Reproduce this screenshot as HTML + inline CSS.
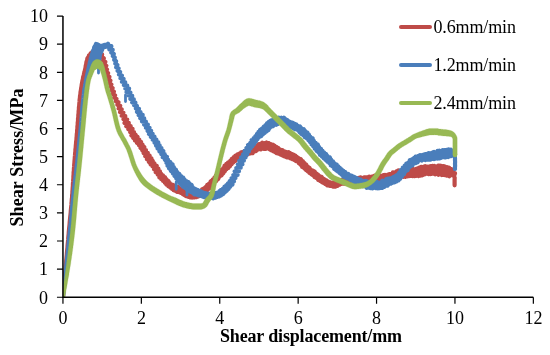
<!DOCTYPE html>
<html><head><meta charset="utf-8"><title>Shear stress chart</title>
<style>
html,body{margin:0;padding:0;background:#fff;}
svg{display:block;font-family:"Liberation Serif","Times New Roman",serif;font-size:18px;fill:#000;}
.b{font-weight:bold;font-size:18px;}
</style></head><body>
<svg width="550" height="355" viewBox="0 0 550 355">
<rect width="550" height="355" fill="#fff"/>
<defs><clipPath id="plot"><rect x="62.95" y="0" width="470.40" height="297.25"/></clipPath></defs>
<g clip-path="url(#plot)"><path d="M63.0,297.0 L63.2,295.1 L63.3,293.2 L63.5,291.3 L63.7,289.4 L63.8,287.5 L64.0,285.6 L64.2,283.7 L64.4,281.8 L64.5,279.8 L64.7,277.9 L64.9,276.0 L65.0,274.0 L65.2,272.1 L65.4,270.2 L65.6,268.3 L65.7,266.3 L65.9,264.4 L66.1,262.5 L66.2,260.6 L66.4,258.7 L66.6,256.8 L66.8,254.8 L66.9,252.9 L67.1,250.9 L67.3,249.0 L67.5,247.1 L67.6,245.2 L67.8,243.2 L68.0,241.3 L68.2,239.4 L68.3,237.4 L68.5,235.5 L68.7,233.6 L68.8,231.7 L69.0,229.7 L69.2,227.8 L69.4,225.9 L69.6,224.0 L69.7,222.1 L69.9,220.2 L70.1,218.3 L70.3,216.3 L70.5,214.4 L70.7,212.5 L70.8,210.6 L71.0,208.7 L71.2,206.8 L71.4,204.9 L71.5,203.0 L71.7,201.1 L71.8,199.1 L72.1,197.3 L72.1,195.4 L72.4,193.4 L72.4,191.5 L72.6,189.6 L72.7,187.7 L72.9,185.8 L72.9,183.9 L73.1,181.9 L73.2,180.0 L73.4,178.2 L73.4,176.2 L73.6,174.3 L73.6,172.4 L73.9,170.5 L73.9,168.6 L74.1,166.7 L74.2,164.8 L74.4,162.8 L74.5,160.9 L74.7,159.1 L74.8,157.1 L75.0,155.2 L75.1,153.3 L75.4,151.4 L75.4,149.5 L75.7,147.6 L75.8,145.6 L76.0,143.8 L76.1,141.9 L76.4,140.0 L76.5,138.0 L76.7,136.1 L76.8,134.2 L77.1,132.3 L77.1,130.4 L77.4,128.5 L77.4,126.6 L77.7,124.7 L77.7,122.8 L78.0,120.8 L78.0,118.9 L78.3,117.0 L78.3,115.1 L78.6,113.2 L78.6,111.3 L78.9,109.4 L78.9,107.5 L79.2,105.6 L79.3,103.6 L79.5,101.7 L79.6,99.8 L79.9,97.9 L80.0,96.0 L80.4,94.2 L80.5,92.2 L80.9,90.3 L81.1,88.4 L81.5,86.5 L81.7,84.6 L82.1,82.8 L82.4,80.8 L82.9,79.0 L83.1,77.1 L83.7,75.3 L84.1,73.4 L84.6,71.6 L85.0,69.7 L85.5,67.8 L85.7,65.9 L86.2,64.0 L86.4,62.1 L87.0,60.3 L87.4,58.4 L88.6,56.9 L89.0,55.3 L90.4,54.6 L90.7,53.2 L92.1,52.9 L92.5,51.6 L93.8,51.8 L94.4,50.6 L95.3,51.5 L96.3,50.7 L96.9,51.9 L98.2,51.2 L98.5,52.8 L100.1,52.3 L100.1,53.9 L102.1,54.4 L101.6,56.8 L103.8,58.3 L102.9,60.6 L105.3,61.9 L104.0,64.3 L106.3,65.7 L104.9,68.1 L107.0,69.5 L105.7,71.9 L108.1,73.2 L107.0,75.5 L109.4,76.9 L108.2,79.3 L110.4,80.6 L109.2,83.0 L111.4,84.4 L110.3,86.7 L112.6,88.0 L111.4,90.4 L113.9,91.7 L112.8,94.1 L115.1,95.3 L114.2,97.7 L116.5,98.8 L115.8,101.3 L118.5,102.2 L117.4,104.8 L120.2,105.7 L118.7,108.5 L121.7,109.3 L120.1,112.1 L123.4,112.7 L121.7,115.7 L125.3,116.1 L123.5,119.1 L127.2,119.5 L124.5,123.0 L128.8,122.9 L126.3,126.3 L130.7,126.1 L128.4,129.3 L132.6,128.9 L130.3,132.3 L134.0,132.0 L131.4,135.5 L135.6,134.6 L133.3,138.0 L137.6,137.0 L135.0,140.6 L139.3,139.6 L137.1,143.0 L141.1,142.0 L139.0,145.3 L142.6,144.6 L140.5,147.9 L144.4,147.1 L142.3,150.4 L146.0,150.0 L143.7,153.2 L147.8,152.8 L145.3,156.3 L149.7,155.7 L147.0,159.3 L151.5,158.4 L149.0,162.0 L152.8,161.0 L150.6,164.4 L154.5,163.4 L152.7,166.5 L156.8,165.8 L154.1,169.4 L158.4,168.7 L155.8,172.3 L160.0,171.5 L157.9,174.8 L161.3,174.0 L159.4,177.4 L163.2,175.8 L161.4,179.2 L165.1,177.4 L163.2,181.0 L166.6,179.4 L165.0,182.8 L168.5,181.2 L166.6,184.7 L169.9,183.3 L168.6,186.4 L171.4,184.5 L170.5,187.8 L173.1,185.1 L172.2,189.0 L174.9,185.6 L173.8,190.3 L176.6,186.4 L175.7,191.0 L178.4,187.1 L177.3,192.0 L179.9,188.5 L179.2,192.2 L181.9,189.2 L181.0,193.0 L183.8,190.0 L182.7,194.1 L185.4,191.1 L184.5,195.1 L186.9,192.0 L186.2,196.2 L188.8,192.3 L188.0,196.8 L190.3,193.4 L189.9,197.4 L191.9,193.4 L192.1,197.6 L193.1,193.7 L194.3,197.4 L194.5,193.8 L196.4,197.1 L195.9,193.0 L198.3,196.6 L197.4,192.0 L200.1,195.7 L199.3,191.9 L202.3,195.0 L201.0,191.0 L203.8,193.1 L202.2,189.3 L205.8,192.0 L204.2,188.3 L207.3,190.1 L205.8,186.8 L209.3,188.5 L207.3,184.9 L211.1,186.7 L209.4,183.4 L213.1,185.0 L210.8,181.2 L214.4,182.6 L212.9,179.5 L216.3,180.9 L214.6,177.5 L218.2,179.0 L216.1,175.4 L219.6,176.8 L217.7,173.3 L221.7,175.2 L219.4,171.3 L223.4,173.2 L221.3,169.5 L224.9,171.1 L223.4,168.0 L226.5,169.2 L224.6,165.6 L228.5,167.8 L226.4,163.9 L230.1,165.9 L228.2,162.3 L231.7,164.0 L230.2,160.9 L233.5,162.3 L231.8,158.8 L235.4,160.8 L233.7,157.2 L236.9,159.3 L235.4,155.6 L238.8,158.4 L237.3,154.4 L240.3,157.3 L239.4,153.5 L241.7,156.2 L241.2,152.4 L243.4,155.8 L243.1,151.9 L245.0,155.2 L244.7,150.8 L246.9,154.9 L246.5,150.5 L248.5,153.9 L248.2,150.3 L250.4,153.4 L249.8,149.6 L252.7,153.1 L251.5,148.8 L254.3,151.6 L253.1,147.7 L256.1,150.9 L254.9,146.6 L257.6,149.6 L256.7,145.6 L259.3,149.1 L258.5,144.2 L260.9,149.4 L260.5,143.8 L262.4,148.5 L262.3,142.7 L264.1,148.9 L264.5,143.2 L265.4,149.0 L266.7,142.5 L266.8,148.4 L268.7,143.1 L268.4,148.7 L270.5,143.9 L269.6,149.4 L273.0,144.7 L270.8,150.0 L275.0,146.1 L272.9,151.0 L276.5,147.0 L274.8,152.1 L278.2,147.9 L276.6,153.2 L279.5,149.3 L278.6,153.7 L281.2,149.9 L280.5,154.6 L282.8,150.3 L282.2,155.3 L284.4,151.4 L283.7,156.1 L286.2,152.0 L285.4,156.8 L288.3,152.1 L287.1,157.5 L290.1,152.9 L289.1,157.6 L291.8,153.9 L290.7,158.5 L293.6,154.7 L292.4,159.2 L295.4,155.7 L294.2,159.9 L297.0,157.1 L295.8,161.1 L298.8,158.2 L297.7,161.8 L300.9,159.3 L299.0,163.3 L302.8,161.1 L300.8,164.8 L304.6,163.1 L302.3,167.0 L306.3,164.8 L304.5,168.5 L307.7,166.6 L306.1,170.1 L309.5,167.9 L308.0,171.5 L310.9,169.6 L309.6,173.0 L312.9,170.6 L311.4,174.3 L314.8,171.7 L313.2,175.6 L316.2,173.4 L314.8,177.2 L318.1,174.7 L316.8,178.2 L319.7,176.1 L318.3,180.0 L321.8,177.0 L320.2,181.0 L323.1,178.5 L322.0,182.3 L324.8,179.6 L323.9,183.1 L326.6,180.4 L325.7,184.2 L328.2,181.5 L327.4,185.5 L329.7,182.2 L329.7,186.0 L331.2,182.6 L331.6,185.8 L332.8,182.7 L333.3,186.7 L334.5,182.4 L335.5,186.7 L335.7,182.8 L337.9,185.7 L337.0,181.8 L339.6,184.6 L339.0,180.7 L341.0,184.0 L340.9,180.2 L342.7,183.6 L342.7,179.8 L344.5,183.5 L344.6,179.5 L346.1,183.0 L346.5,179.0 L347.8,183.1 L348.3,178.4 L349.5,183.2 L350.1,178.4 L351.3,183.4 L351.9,178.6 L352.9,182.6 L353.6,178.3 L354.6,182.6 L355.3,178.0 L356.4,182.9 L357.1,178.3 L358.2,183.0 L358.8,177.9 L359.9,182.6 L360.6,177.4 L361.7,182.9 L362.4,178.0 L363.5,182.2 L364.1,177.3 L365.3,182.1 L365.8,177.3 L367.3,182.0 L367.5,177.4 L369.2,181.9 L369.1,176.6 L370.9,181.0 L371.0,176.9 L372.7,181.4 L372.9,176.4 L374.3,180.8 L374.7,175.7 L376.0,180.6 L376.6,175.8 L377.7,181.2 L378.3,175.6 L379.4,181.0 L380.0,175.5 L381.1,181.1 L381.7,175.9 L382.9,180.9 L383.4,175.2 L384.7,181.1 L385.0,174.9 L386.8,180.9 L386.6,175.4 L388.7,179.9 L388.0,174.6 L390.8,179.9 L389.6,174.0 L392.3,178.7 L391.5,173.8 L394.0,178.1 L393.0,172.3 L395.5,177.3 L394.9,172.4 L397.5,177.0 L396.4,171.4 L399.1,176.5 L398.5,170.3 L400.2,176.1 L400.8,170.5 L401.9,176.7 L402.6,169.9 L403.7,176.9 L404.3,170.6 L405.4,176.9 L406.0,169.8 L407.1,176.5 L407.7,170.5 L408.9,176.1 L409.3,169.3 L410.8,175.9 L411.1,169.6 L412.7,176.1 L412.7,168.7 L414.5,176.1 L414.6,169.4 L416.5,175.8 L416.1,168.8 L418.6,176.0 L417.7,168.4 L420.4,175.5 L419.4,167.7 L422.2,175.4 L421.2,166.9 L423.6,174.4 L423.3,166.9 L425.1,174.3 L425.2,166.1 L426.7,173.6 L427.1,166.6 L428.5,174.1 L429.0,166.5 L430.2,174.2 L430.7,166.2 L431.9,173.8 L432.5,165.9 L433.5,173.6 L434.2,165.9 L435.2,174.3 L436.2,166.7 L436.7,173.7 L438.2,165.5 L438.3,174.8 L440.0,165.6 L440.2,173.5 L441.8,166.0 L441.7,175.1 L443.7,166.1 L443.4,174.9 L445.5,166.7 L444.9,175.2 L447.3,167.2 L446.5,175.6 L449.2,167.7 L448.3,175.1 L451.1,168.9 L449.2,176.3 L453.5,169.7 L451.3,175.1 L455.0,173.2 L454.0,176.0 L454.7,177.7 L454.6,179.6 L454.6,181.5 L454.6,183.5 L454.6,185.3" fill="none" stroke="#be4b48" stroke-width="4.2" stroke-linejoin="round" stroke-linecap="round"/><path d="M63.0,297.0 L63.2,295.1 L63.4,293.2 L63.6,291.3 L63.8,289.4 L64.0,287.5 L64.2,285.6 L64.4,283.7 L64.6,281.8 L64.9,279.8 L65.1,278.0 L65.3,276.0 L65.5,274.1 L65.7,272.2 L65.9,270.3 L66.1,268.3 L66.3,266.4 L66.5,264.5 L66.7,262.5 L66.9,260.7 L67.1,258.7 L67.3,256.8 L67.5,254.9 L67.7,252.9 L67.9,251.0 L68.1,249.1 L68.3,247.2 L68.5,245.2 L68.7,243.3 L68.8,241.4 L69.0,239.5 L69.2,237.5 L69.4,235.6 L69.6,233.7 L69.8,231.8 L70.0,229.8 L70.2,227.9 L70.4,226.0 L70.6,224.1 L70.8,222.2 L70.9,220.3 L71.1,218.4 L71.3,216.4 L71.5,214.5 L71.7,212.6 L71.8,210.7 L72.0,208.8 L72.2,206.9 L72.4,205.0 L72.5,203.1 L72.8,201.2 L72.9,199.3 L73.2,197.4 L73.3,195.5 L73.6,193.5 L73.7,191.6 L74.0,189.8 L74.1,187.8 L74.5,185.9 L74.6,184.0 L74.9,182.1 L75.1,180.2 L75.4,178.3 L75.5,176.4 L75.8,174.5 L76.0,172.6 L76.3,170.7 L76.4,168.8 L76.7,166.9 L76.8,165.0 L77.2,163.1 L77.3,161.2 L77.6,159.3 L77.7,157.4 L78.0,155.5 L78.1,153.6 L78.4,151.7 L78.5,149.8 L78.8,147.9 L78.9,145.9 L79.1,144.1 L79.3,142.2 L79.5,140.3 L79.6,138.3 L79.9,136.4 L80.0,134.5 L80.3,132.6 L80.4,130.7 L80.7,128.8 L80.8,126.9 L81.0,125.0 L81.1,123.1 L81.3,121.2 L81.4,119.3 L81.6,117.4 L81.7,115.4 L82.0,113.5 L82.0,111.6 L82.3,109.7 L82.3,107.8 L82.6,105.9 L82.7,103.9 L83.0,102.1 L83.1,100.2 L83.4,98.2 L83.5,96.3 L83.8,94.5 L84.0,92.5 L84.3,90.7 L84.5,88.8 L84.9,86.9 L85.2,85.0 L85.6,83.1 L85.8,81.2 L86.3,79.3 L86.6,77.4 L87.1,75.6 L87.4,73.7 L87.9,71.9 L88.2,69.9 L88.7,68.1 L89.0,66.2 L89.6,64.3 L89.8,62.4 L90.5,60.6 L90.7,58.7 L91.5,56.9 L91.7,55.0 L92.5,53.2 L92.9,51.3 L93.8,49.6 L94.2,47.3 L95.4,45.4 L96.0,44.0 L96.9,44.3 L97.9,44.5 L98.6,45.4 L99.6,45.6 L100.4,46.2 L101.3,45.8 L102.2,46.3 L103.0,45.5 L103.9,46.9 L104.7,45.0 L105.8,46.8 L106.3,44.6 L107.7,46.7 L108.2,43.7 L108.3,46.6 L111.4,46.2 L109.4,49.4 L112.7,49.9 L111.3,52.6 L113.8,53.8 L112.8,56.1 L114.8,57.5 L114.2,59.8 L116.1,61.2 L115.3,63.5 L117.4,64.9 L116.2,67.3 L118.6,68.5 L117.6,70.9 L120.1,72.0 L119.0,74.6 L121.9,75.4 L120.5,78.2 L123.6,78.9 L122.0,81.8 L125.2,82.3 L123.9,85.1 L127.2,85.5 L125.4,88.5 L129.1,88.7 L126.6,92.1 L130.4,92.5 L128.6,95.4 L132.2,95.9 L130.4,98.9 L133.8,99.3 L132.2,102.3 L135.4,102.6 L134.2,105.3 L136.9,105.9 L135.9,108.5 L139.0,108.8 L137.0,111.9 L140.5,112.0 L138.7,115.1 L142.7,114.9 L140.3,118.3 L144.2,118.4 L142.1,121.5 L145.9,121.7 L144.2,124.6 L147.9,124.7 L146.0,127.8 L149.6,127.8 L147.6,130.9 L151.2,130.8 L149.0,134.1 L152.7,133.8 L150.9,136.9 L154.5,136.7 L152.8,139.7 L156.4,139.6 L154.6,142.6 L158.3,142.4 L156.1,145.7 L159.7,145.4 L157.6,148.6 L161.5,148.2 L159.5,151.4 L163.4,151.0 L161.4,154.2 L164.7,154.2 L162.8,157.3 L167.0,156.8 L165.0,159.9 L168.2,159.8 L166.5,162.8 L170.4,162.1 L167.6,165.8 L172.6,164.4 L169.1,168.5 L173.9,167.2 L171.0,171.0 L175.9,169.6 L172.9,173.5 L177.4,172.2 L174.6,176.1 L179.5,174.2 L176.3,178.5 L181.1,176.2 L178.1,180.7 L183.3,177.7 L179.4,183.0 L184.6,179.7 L181.3,184.9 L186.4,181.1 L183.0,186.7 L188.5,182.2 L185.0,187.9 L189.9,184.0 L186.9,189.2 L191.7,185.1 L188.5,191.0 L192.7,187.2 L190.7,191.9 L194.3,188.4 L192.8,193.0 L195.9,189.2 L194.4,194.5 L197.5,189.9 L196.5,194.7 L199.1,190.8 L198.4,195.3 L200.9,191.2 L200.3,195.7 L202.3,192.2 L202.1,196.4 L203.9,192.8 L203.9,197.2 L205.6,193.2 L205.8,197.2 L207.3,193.6 L207.5,197.9 L209.1,193.6 L209.3,198.0 L210.7,194.0 L211.2,197.7 L212.3,194.0 L213.2,198.4 L213.7,193.5 L215.3,197.7 L215.1,193.2 L217.3,196.9 L216.7,192.9 L219.2,196.3 L218.4,192.2 L221.1,195.4 L219.6,191.1 L223.2,194.0 L221.0,189.9 L224.9,192.1 L223.0,188.5 L226.8,190.7 L224.6,186.7 L228.6,188.8 L226.4,185.0 L230.2,186.7 L228.1,183.2 L232.5,184.5 L229.9,180.9 L234.0,181.5 L231.6,178.1 L235.5,178.1 L233.4,175.0 L237.6,174.9 L234.7,171.4 L239.0,171.2 L236.4,168.0 L240.7,167.7 L237.9,164.3 L242.5,164.3 L239.3,160.7 L243.9,160.7 L241.2,157.3 L245.6,157.5 L243.2,154.1 L247.2,154.3 L244.7,150.8 L249.0,151.3 L246.5,147.9 L250.7,148.5 L248.1,144.9 L252.5,146.1 L250.4,142.7 L254.2,143.8 L251.7,140.0 L255.9,141.6 L253.8,138.1 L257.4,139.4 L255.5,136.0 L259.0,137.3 L257.1,133.8 L261.2,136.0 L258.6,131.7 L262.9,134.3 L260.2,129.7 L264.8,132.8 L262.3,128.4 L266.7,131.4 L263.9,126.6 L268.5,130.0 L265.6,125.0 L269.7,128.0 L267.2,123.1 L271.2,126.8 L269.0,121.6 L273.0,126.1 L271.0,120.5 L274.4,124.8 L273.0,119.8 L276.3,124.7 L274.9,119.4 L278.1,123.7 L276.8,118.5 L279.4,122.8 L278.8,117.5 L280.4,122.9 L281.5,117.7 L281.4,122.5 L284.1,117.8 L282.6,123.4 L285.9,119.3 L284.5,123.7 L287.6,120.3 L286.3,124.8 L289.0,121.5 L288.0,125.9 L290.7,122.3 L289.8,126.6 L292.6,122.8 L291.5,127.3 L294.4,123.6 L293.2,128.2 L296.3,124.4 L294.8,129.3 L297.9,125.9 L296.8,129.6 L300.0,126.5 L298.4,130.7 L301.5,128.3 L299.7,132.3 L303.8,129.3 L301.3,133.8 L305.4,131.3 L303.3,135.2 L307.4,132.7 L304.8,137.1 L309.0,134.8 L306.9,138.4 L310.4,136.9 L308.6,140.3 L312.7,138.4 L310.2,142.3 L313.9,140.9 L311.7,144.5 L315.7,143.0 L313.4,146.6 L317.9,144.7 L314.9,148.9 L319.2,147.1 L316.7,151.0 L321.0,149.0 L318.7,152.8 L322.6,150.9 L320.2,155.0 L324.3,152.7 L322.1,156.6 L326.2,154.3 L323.9,158.4 L327.7,156.3 L325.7,160.0 L329.9,157.5 L327.4,161.7 L331.2,159.7 L329.5,163.2 L333.0,161.4 L330.8,165.4 L334.6,163.4 L333.0,166.7 L336.7,164.6 L334.3,168.9 L338.3,166.4 L336.2,170.4 L339.9,168.0 L338.1,171.7 L341.7,169.4 L339.8,173.1 L343.5,171.0 L341.7,174.7 L345.3,172.1 L343.3,176.6 L346.4,173.7 L345.5,177.5 L348.3,174.0 L347.2,178.5 L349.8,175.2 L349.1,179.0 L351.8,175.8 L350.6,180.3 L353.7,176.6 L352.5,181.0 L355.4,177.5 L354.0,182.5 L357.1,178.1 L355.8,183.3 L358.7,179.1 L357.8,183.5 L360.5,179.6 L359.6,184.3 L362.0,180.8 L361.3,185.4 L363.7,181.3 L363.1,186.1 L365.5,181.0 L365.0,186.4 L367.2,181.4 L366.6,187.9 L368.6,182.5 L368.8,187.7 L370.1,181.9 L370.8,188.2 L371.8,182.4 L372.5,188.3 L373.5,182.4 L374.3,187.7 L375.2,182.2 L376.0,188.2 L376.9,181.9 L377.8,188.3 L378.7,182.8 L379.6,188.2 L380.1,182.5 L382.4,187.9 L381.0,182.5 L384.6,186.7 L382.3,180.7 L385.7,185.3 L384.8,180.6 L387.6,185.6 L386.3,179.1 L389.0,184.1 L388.0,178.6 L390.9,183.6 L389.9,178.4 L392.7,182.8 L391.7,178.0 L394.7,182.3 L393.3,177.1 L396.6,181.4 L394.9,176.2 L398.5,180.3 L396.6,175.3 L400.2,178.7 L398.1,174.2 L401.9,176.6 L399.3,172.6 L404.0,174.1 L400.7,170.1 L405.6,171.5 L402.9,167.5 L407.7,170.0 L404.8,165.6 L408.9,167.8 L406.4,163.6 L410.7,166.4 L408.6,162.3 L412.6,165.2 L409.9,160.2 L413.9,163.5 L412.1,159.1 L415.9,163.0 L414.0,158.0 L417.7,162.2 L415.7,156.6 L418.8,160.6 L417.9,156.1 L420.3,160.1 L420.0,155.1 L421.9,160.6 L421.9,155.1 L423.4,159.7 L423.6,154.7 L425.4,160.0 L425.2,154.1 L427.2,159.5 L427.0,153.9 L429.1,159.7 L428.7,153.1 L430.8,159.5 L430.6,153.3 L432.4,158.8 L432.4,152.5 L434.3,159.1 L434.1,151.8 L436.0,158.5 L436.0,152.2 L437.8,158.5 L437.6,150.9 L439.6,158.4 L439.4,150.5 L441.4,157.8 L441.1,151.1 L443.2,157.0 L442.8,150.1 L445.1,157.4 L444.6,150.0 L446.8,157.1 L446.6,149.9 L448.4,157.0 L448.6,149.4 L449.8,156.1 L450.9,149.6 L451.0,156.2 L452.8,151.3 L452.1,155.3 L455.0,153.9 L454.8,156.4 L455.0,158.3 L455.0,160.1 L455.1,162.0 L455.0,163.9 L455.1,165.9 L454.9,168.0 L455.0,169.0" fill="none" stroke="#4a7ebb" stroke-width="4.2" stroke-linejoin="round" stroke-linecap="round"/><path d="M88.5,62 L90,55 L93.5,46 L96.5,42 L100.5,44 L104.5,44 L104.5,49.5 L102,55 L101,62 L98,65 L92,65 Z" fill="#4a7ebb"/><path d="M98.5,60 V73 M125.5,95 V101.5 M176.2,182 V189.3 M187,188 V195" fill="none" stroke="#4a7ebb" stroke-width="2.8" stroke-linecap="round"/><path d="M64.8,297.3 L64.9,296.7 L65.0,296.1 L65.1,295.5 L65.2,294.9 L65.3,294.3 L65.5,293.7 L65.6,293.1 L65.7,292.5 L65.8,291.9 L65.9,291.3 L66.0,290.8 L66.1,290.2 L66.2,289.6 L66.3,289.0 L66.5,288.4 L66.6,287.8 L66.7,287.2 L66.8,286.6 L66.9,286.0 L67.0,285.4 L67.1,284.8 L67.2,284.2 L67.3,283.7 L67.4,283.1 L67.5,282.5 L67.6,281.9 L67.7,281.3 L67.8,280.7 L67.9,280.1 L68.0,279.5 L68.1,278.9 L68.2,278.3 L68.3,277.7 L68.5,277.1 L68.6,276.5 L68.7,276.0 L68.8,275.4 L68.9,274.8 L69.0,274.2 L69.0,273.6 L69.1,273.0 L69.2,272.4 L69.3,271.8 L69.4,271.2 L69.5,270.6 L69.6,270.0 L69.7,269.4 L69.8,268.8 L69.9,268.2 L70.0,267.6 L70.1,267.0 L70.2,266.5 L70.3,265.9 L70.4,265.3 L70.5,264.7 L70.6,264.1 L70.7,263.5 L70.8,262.9 L70.8,262.3 L70.9,261.7 L71.0,261.1 L71.1,260.5 L71.2,259.9 L71.3,259.3 L71.4,258.7 L71.5,258.1 L71.6,257.5 L71.6,256.9 L71.7,256.3 L71.8,255.8 L71.9,255.2 L72.0,254.6 L72.1,254.0 L72.2,253.4 L72.2,252.8 L72.3,252.2 L72.4,251.6 L72.5,251.0 L72.6,250.4 L72.6,249.8 L72.7,249.2 L72.8,248.6 L72.9,248.0 L73.0,247.4 L73.0,246.8 L73.1,246.2 L73.2,245.6 L73.3,245.0 L73.4,244.4 L73.4,243.8 L73.5,243.2 L73.6,242.6 L73.7,242.0 L73.7,241.5 L73.8,240.9 L73.9,240.3 L73.9,239.7 L74.0,239.1 L74.1,238.5 L74.2,237.9 L74.2,237.3 L74.3,236.7 L74.4,236.1 L74.4,235.5 L74.5,234.9 L74.6,234.3 L74.7,233.7 L74.7,233.1 L74.8,232.5 L74.9,231.9 L74.9,231.3 L75.0,230.7 L75.1,230.1 L75.1,229.5 L75.2,228.9 L75.2,228.3 L75.3,227.7 L75.4,227.1 L75.4,226.5 L75.5,225.9 L75.5,225.3 L75.6,224.7 L75.7,224.1 L75.7,223.5 L75.8,222.9 L75.8,222.3 L75.9,221.7 L75.9,221.1 L76.0,220.5 L76.1,219.9 L76.1,219.3 L76.2,218.7 L76.2,218.1 L76.3,217.5 L76.3,216.9 L76.4,216.3 L76.4,215.7 L76.5,215.1 L76.5,214.5 L76.6,213.9 L76.6,213.3 L76.7,212.7 L76.7,212.1 L76.8,211.5 L76.8,210.9 L76.9,210.3 L76.9,209.8 L77.0,209.2 L77.0,208.6 L77.1,208.0 L77.1,207.4 L77.2,206.8 L77.2,206.2 L77.3,205.6 L77.3,205.0 L77.4,204.4 L77.4,203.8 L77.5,203.2 L77.5,202.6 L77.6,202.0 L77.7,201.4 L77.7,200.8 L77.8,200.2 L77.8,199.6 L77.9,199.0 L77.9,198.4 L78.0,197.8 L78.0,197.2 L78.1,196.6 L78.2,196.0 L78.2,195.4 L78.3,194.8 L78.3,194.2 L78.4,193.7 L78.5,193.1 L78.5,192.5 L78.6,191.9 L78.6,191.3 L78.7,190.7 L78.8,190.1 L78.8,189.5 L78.9,188.9 L79.0,188.3 L79.0,187.7 L79.1,187.1 L79.2,186.5 L79.2,185.9 L79.3,185.3 L79.4,184.7 L79.4,184.1 L79.5,183.5 L79.6,182.9 L79.6,182.3 L79.7,181.8 L79.8,181.2 L79.8,180.6 L79.9,180.0 L80.0,179.4 L80.0,178.8 L80.1,178.2 L80.2,177.6 L80.2,177.0 L80.3,176.4 L80.4,175.8 L80.5,175.2 L80.5,174.6 L80.6,174.0 L80.7,173.4 L80.7,172.8 L80.8,172.2 L80.9,171.6 L80.9,171.0 L81.0,170.4 L81.0,169.8 L81.1,169.2 L81.2,168.6 L81.2,168.0 L81.3,167.4 L81.4,166.8 L81.4,166.2 L81.5,165.6 L81.6,165.0 L81.6,164.4 L81.7,163.8 L81.7,163.2 L81.8,162.6 L81.9,162.0 L81.9,161.4 L82.0,160.8 L82.0,160.2 L82.1,159.6 L82.2,159.1 L82.2,158.5 L82.3,157.9 L82.3,157.3 L82.4,156.7 L82.5,156.1 L82.5,155.5 L82.6,154.9 L82.6,154.3 L82.7,153.7 L82.7,153.1 L82.8,152.5 L82.9,151.9 L82.9,151.3 L83.0,150.7 L83.0,150.1 L83.1,149.5 L83.1,148.9 L83.2,148.3 L83.3,147.7 L83.3,147.1 L83.4,146.5 L83.4,145.9 L83.5,145.3 L83.5,144.7 L83.6,144.1 L83.7,143.5 L83.7,142.9 L83.8,142.3 L83.8,141.7 L83.9,141.1 L83.9,140.5 L84.0,139.9 L84.1,139.3 L84.1,138.7 L84.2,138.1 L84.2,137.5 L84.3,136.9 L84.3,136.3 L84.4,135.8 L84.5,135.2 L84.5,134.6 L84.6,134.0 L84.6,133.4 L84.7,132.8 L84.7,132.2 L84.8,131.6 L84.9,131.0 L84.9,130.4 L85.0,129.8 L85.0,129.2 L85.1,128.6 L85.2,128.0 L85.2,127.4 L85.3,126.8 L85.3,126.2 L85.4,125.6 L85.4,125.0 L85.5,124.4 L85.6,123.8 L85.6,123.2 L85.7,122.6 L85.7,122.0 L85.8,121.4 L85.8,120.8 L85.9,120.2 L85.9,119.6 L86.0,119.0 L86.0,118.4 L86.1,117.8 L86.2,117.2 L86.2,116.6 L86.3,116.0 L86.3,115.4 L86.4,114.8 L86.4,114.2 L86.5,113.6 L86.5,113.0 L86.6,112.4 L86.7,111.8 L86.7,111.3 L86.8,110.7 L86.8,110.1 L86.9,109.5 L86.9,108.9 L87.0,108.3 L87.1,107.7 L87.1,107.1 L87.2,106.5 L87.2,105.9 L87.3,105.3 L87.4,104.7 L87.4,104.1 L87.5,103.5 L87.6,102.9 L87.6,102.3 L87.7,101.7 L87.7,101.1 L87.8,100.5 L87.9,100.0 L87.9,99.4 L88.0,98.8 L88.1,98.2 L88.2,97.6 L88.2,97.0 L88.3,96.4 L88.4,95.8 L88.4,95.2 L88.5,94.6 L88.6,94.0 L88.7,93.4 L88.7,92.8 L88.8,92.2 L88.9,91.6 L89.0,91.0 L89.0,90.5 L89.1,89.9 L89.2,89.3 L89.3,88.7 L89.4,88.1 L89.4,87.5 L89.5,86.9 L89.6,86.3 L89.7,85.7 L89.8,85.2 L89.9,84.6 L90.0,84.0 L90.1,83.4 L90.2,82.9 L90.3,82.3 L90.4,81.7 L90.5,81.2 L90.7,80.6 L90.8,80.1 L90.9,79.6 L91.1,79.0 L91.3,78.5 L91.4,78.0 L91.6,77.4 L91.9,76.9 L92.1,76.4 L92.3,75.8 L92.5,75.3 L92.8,74.7 L93.0,74.2 L93.2,73.6 L93.5,73.0 L93.7,72.5 L93.9,71.9 L94.2,71.3 L94.4,70.8 L94.6,70.3 L94.9,69.7 L95.1,69.2 L95.4,68.7 L95.6,68.3 L95.9,67.8 L96.2,67.3 L96.5,66.8 L96.8,66.4 L97.1,66.0 L97.3,65.7 L97.5,65.5 L97.6,65.4 L97.6,65.4 L97.6,65.4 L97.5,65.3 L97.4,65.3 L97.4,65.4 L97.4,65.4 L97.5,65.4 L97.6,65.6 L97.8,65.8 L98.0,66.1 L98.3,66.6 L98.6,67.0 L98.8,67.5 L99.1,68.0 L99.3,68.4 L99.5,68.9 L99.7,69.4 L99.9,70.0 L100.2,70.5 L100.4,71.1 L100.5,71.6 L100.7,72.2 L100.9,72.8 L101.1,73.3 L101.3,73.9 L101.5,74.5 L101.6,75.0 L101.8,75.6 L102.0,76.2 L102.1,76.7 L102.3,77.3 L102.4,77.9 L102.6,78.4 L102.7,79.0 L102.9,79.6 L103.0,80.2 L103.2,80.7 L103.3,81.3 L103.4,81.9 L103.6,82.5 L103.7,83.0 L103.8,83.6 L103.9,84.2 L104.1,84.8 L104.2,85.4 L104.3,86.0 L104.5,86.6 L104.6,87.2 L104.7,87.8 L104.9,88.4 L105.0,89.0 L105.2,89.6 L105.3,90.2 L105.5,90.8 L105.7,91.4 L105.8,92.0 L106.0,92.6 L106.2,93.2 L106.4,93.7 L106.6,94.3 L106.8,94.9 L107.0,95.4 L107.1,96.0 L107.3,96.5 L107.5,97.1 L107.7,97.7 L107.8,98.3 L108.0,98.8 L108.2,99.4 L108.4,100.0 L108.5,100.5 L108.7,101.1 L108.9,101.7 L109.0,102.3 L109.2,102.8 L109.4,103.4 L109.6,104.0 L109.7,104.6 L109.9,105.1 L110.1,105.7 L110.2,106.3 L110.4,106.9 L110.5,107.4 L110.7,108.0 L110.9,108.6 L111.0,109.1 L111.2,109.7 L111.3,110.3 L111.5,110.9 L111.7,111.4 L111.8,112.0 L111.9,112.6 L112.1,113.1 L112.2,113.7 L112.4,114.3 L112.5,114.9 L112.6,115.5 L112.8,116.0 L112.9,116.6 L113.0,117.2 L113.2,117.8 L113.3,118.4 L113.4,119.0 L113.6,119.6 L113.7,120.2 L113.8,120.8 L114.0,121.4 L114.1,122.0 L114.2,122.6 L114.4,123.1 L114.5,123.7 L114.7,124.3 L114.8,124.9 L115.0,125.5 L115.1,126.1 L115.3,126.7 L115.5,127.3 L115.6,127.9 L115.8,128.5 L116.0,129.1 L116.2,129.6 L116.4,130.2 L116.6,130.8 L116.8,131.4 L117.1,132.0 L117.3,132.6 L117.6,133.2 L117.8,133.7 L118.1,134.3 L118.4,134.9 L118.7,135.4 L119.0,136.0 L119.3,136.5 L119.6,137.1 L119.9,137.6 L120.2,138.1 L120.5,138.6 L120.8,139.2 L121.1,139.7 L121.4,140.2 L121.7,140.7 L122.0,141.2 L122.3,141.7 L122.6,142.3 L122.9,142.8 L123.1,143.3 L123.4,143.8 L123.7,144.4 L124.0,144.9 L124.3,145.4 L124.6,146.0 L124.8,146.5 L125.1,147.0 L125.4,147.5 L125.6,148.1 L125.9,148.6 L126.1,149.1 L126.4,149.6 L126.6,150.1 L126.8,150.6 L127.0,151.2 L127.2,151.7 L127.4,152.2 L127.6,152.8 L127.8,153.3 L128.0,153.9 L128.2,154.4 L128.4,155.0 L128.5,155.5 L128.7,156.1 L128.9,156.7 L129.1,157.3 L129.3,157.8 L129.5,158.4 L129.7,159.0 L129.8,159.5 L130.0,160.1 L130.2,160.7 L130.4,161.3 L130.5,161.8 L130.7,162.4 L130.9,163.0 L131.1,163.6 L131.3,164.2 L131.5,164.8 L131.7,165.4 L132.0,166.0 L132.2,166.5 L132.4,167.1 L132.7,167.7 L132.9,168.3 L133.2,168.8 L133.4,169.4 L133.7,170.0 L133.9,170.5 L134.2,171.1 L134.5,171.7 L134.7,172.2 L135.0,172.8 L135.3,173.3 L135.6,173.9 L135.9,174.4 L136.1,175.0 L136.4,175.5 L136.7,176.1 L137.0,176.6 L137.3,177.1 L137.7,177.7 L138.0,178.2 L138.3,178.8 L138.6,179.3 L139.0,179.9 L139.3,180.4 L139.7,180.9 L140.0,181.5 L140.4,182.0 L140.8,182.5 L141.2,183.0 L141.7,183.5 L142.1,184.0 L142.6,184.5 L143.0,184.9 L143.5,185.4 L144.0,185.8 L144.5,186.2 L145.0,186.7 L145.5,187.1 L146.0,187.4 L146.5,187.8 L147.0,188.2 L147.5,188.6 L148.0,188.9 L148.5,189.3 L149.0,189.7 L149.5,190.0 L150.0,190.4 L150.5,190.7 L151.0,191.1 L151.6,191.4 L152.1,191.8 L152.6,192.1 L153.1,192.4 L153.6,192.8 L154.2,193.1 L154.7,193.4 L155.2,193.7 L155.7,194.1 L156.3,194.4 L156.8,194.7 L157.3,195.0 L157.8,195.3 L158.4,195.6 L158.9,195.9 L159.4,196.2 L160.0,196.5 L160.5,196.8 L161.1,197.1 L161.6,197.4 L162.1,197.7 L162.7,197.9 L163.2,198.2 L163.8,198.5 L164.3,198.8 L164.8,199.1 L165.4,199.3 L165.9,199.6 L166.5,199.9 L167.0,200.1 L167.6,200.4 L168.1,200.7 L168.7,200.9 L169.3,201.2 L169.8,201.5 L170.4,201.7 L170.9,202.0 L171.5,202.3 L172.0,202.6 L172.5,202.8 L173.0,203.1 L173.6,203.3 L174.1,203.6 L174.6,203.8 L175.2,204.1 L175.7,204.3 L176.2,204.6 L176.8,204.9 L177.4,205.1 L178.0,205.4 L178.5,205.6 L179.1,205.9 L179.7,206.1 L180.3,206.3 L180.8,206.6 L181.5,206.8 L182.1,207.0 L182.7,207.3 L183.3,207.5 L184.0,207.6 L184.6,207.8 L185.2,207.9 L185.8,208.1 L186.4,208.2 L187.0,208.4 L187.6,208.5 L188.2,208.7 L188.9,208.8 L189.5,208.9 L190.1,209.0 L190.8,209.1 L191.4,209.2 L192.1,209.3 L192.8,209.4 L193.4,209.4 L194.1,209.5 L194.8,209.5 L195.4,209.5 L196.0,209.5 L196.6,209.5 L197.2,209.5 L197.8,209.5 L198.4,209.5 L199.1,209.5 L199.7,209.5 L200.4,209.5 L201.2,209.4 L202.0,209.2 L202.8,209.0 L203.6,208.7 L204.3,208.4 L205.1,208.0 L205.8,207.6 L206.5,207.0 L207.1,206.3 L207.6,205.6 L207.9,204.9 L208.3,204.3 L208.5,203.7 L208.8,203.2 L209.1,202.7 L209.3,202.3 L209.6,201.9 L210.0,201.5 L210.3,201.0 L210.7,200.6 L211.1,200.1 L211.5,199.6 L211.9,199.1 L212.4,198.5 L212.8,197.9 L213.2,197.3 L213.5,196.7 L213.8,196.0 L214.0,195.4 L214.2,194.7 L214.4,194.1 L214.6,193.5 L214.7,192.9 L214.9,192.2 L215.0,191.6 L215.1,191.0 L215.2,190.4 L215.3,189.8 L215.5,189.2 L215.6,188.6 L215.7,188.0 L215.8,187.4 L215.9,186.8 L216.0,186.2 L216.2,185.6 L216.3,185.1 L216.4,184.5 L216.6,183.9 L216.7,183.3 L216.9,182.7 L217.0,182.2 L217.2,181.6 L217.3,181.0 L217.5,180.4 L217.6,179.8 L217.8,179.3 L217.9,178.7 L218.0,178.1 L218.2,177.5 L218.3,176.9 L218.5,176.3 L218.6,175.8 L218.8,175.2 L218.9,174.6 L219.1,174.0 L219.2,173.4 L219.4,172.8 L219.5,172.3 L219.6,171.7 L219.8,171.1 L219.9,170.5 L220.1,169.9 L220.2,169.3 L220.3,168.7 L220.5,168.2 L220.6,167.6 L220.8,167.0 L220.9,166.4 L221.0,165.8 L221.2,165.2 L221.3,164.6 L221.5,164.1 L221.6,163.5 L221.7,162.9 L221.9,162.3 L222.0,161.7 L222.1,161.1 L222.3,160.6 L222.4,160.0 L222.6,159.4 L222.7,158.8 L222.8,158.2 L223.0,157.6 L223.1,157.1 L223.3,156.5 L223.4,155.9 L223.5,155.3 L223.7,154.7 L223.8,154.2 L224.0,153.6 L224.1,153.0 L224.3,152.4 L224.4,151.8 L224.6,151.3 L224.7,150.7 L224.8,150.1 L225.0,149.5 L225.1,148.9 L225.3,148.4 L225.4,147.8 L225.6,147.2 L225.8,146.6 L225.9,146.1 L226.1,145.5 L226.2,144.9 L226.4,144.4 L226.5,143.8 L226.7,143.2 L226.9,142.6 L227.0,142.1 L227.2,141.5 L227.4,140.9 L227.5,140.4 L227.7,139.8 L227.9,139.3 L228.1,138.7 L228.3,138.2 L228.5,137.6 L228.7,137.1 L228.9,136.5 L229.1,136.0 L229.3,135.4 L229.5,134.8 L229.7,134.2 L229.9,133.7 L230.1,133.1 L230.3,132.5 L230.5,131.9 L230.7,131.3 L230.8,130.7 L231.0,130.1 L231.2,129.5 L231.3,128.9 L231.5,128.3 L231.7,127.7 L231.8,127.1 L232.0,126.6 L232.1,126.0 L232.3,125.4 L232.4,124.8 L232.6,124.2 L232.7,123.6 L232.9,123.1 L233.0,122.5 L233.2,121.9 L233.3,121.3 L233.5,120.7 L233.6,120.1 L233.8,119.5 L233.9,118.9 L234.1,118.3 L234.2,117.7 L234.3,117.1 L234.5,116.6 L234.6,116.1 L234.8,115.7 L234.9,115.4 L235.0,115.2 L235.1,115.0 L235.3,114.8 L235.6,114.6 L236.0,114.4 L236.5,114.1 L237.0,113.8 L237.5,113.5 L238.1,113.2 L238.8,112.8 L239.4,112.4 L239.9,112.0 L240.5,111.5 L241.0,111.1 L241.5,110.7 L241.9,110.2 L242.4,109.8 L242.8,109.5 L243.2,109.1 L243.6,108.7 L244.0,108.4 L244.5,108.1 L245.0,107.8 L245.5,107.5 L246.0,107.1 L246.5,106.8 L247.1,106.5 L247.5,106.2 L248.0,106.0 L248.4,105.8 L248.7,105.7 L248.9,105.7 L249.0,105.7 L249.1,105.7 L249.2,105.7 L249.4,105.8 L249.8,105.8 L250.2,105.9 L250.6,106.1 L251.1,106.2 L251.7,106.4 L252.3,106.6 L253.0,106.8 L253.6,107.0 L254.3,107.2 L255.0,107.3 L255.6,107.5 L256.3,107.6 L256.9,107.7 L257.4,107.7 L258.0,107.8 L258.5,107.9 L259.0,108.0 L259.5,108.1 L259.9,108.2 L260.3,108.3 L260.7,108.4 L261.1,108.6 L261.6,108.7 L262.0,108.9 L262.5,109.1 L262.9,109.3 L263.3,109.6 L263.7,109.8 L264.0,110.1 L264.4,110.4 L264.8,110.8 L265.3,111.2 L265.7,111.7 L266.2,112.1 L266.6,112.6 L267.0,113.0 L267.5,113.4 L267.9,113.8 L268.3,114.3 L268.8,114.7 L269.2,115.1 L269.6,115.5 L270.0,115.9 L270.5,116.4 L270.9,116.8 L271.3,117.2 L271.7,117.6 L272.2,118.1 L272.6,118.5 L273.0,118.9 L273.4,119.3 L273.9,119.8 L274.3,120.2 L274.7,120.6 L275.1,121.0 L275.6,121.4 L276.0,121.9 L276.4,122.3 L276.8,122.7 L277.3,123.1 L277.7,123.6 L278.1,124.0 L278.5,124.4 L279.0,124.8 L279.4,125.3 L279.8,125.7 L280.2,126.1 L280.6,126.5 L281.0,126.9 L281.5,127.4 L281.9,127.8 L282.3,128.2 L282.7,128.7 L283.1,129.1 L283.5,129.5 L284.0,130.0 L284.4,130.4 L284.8,130.9 L285.3,131.3 L285.7,131.7 L286.2,132.2 L286.7,132.6 L287.1,133.0 L287.6,133.4 L288.1,133.9 L288.6,134.3 L289.1,134.6 L289.6,135.0 L290.1,135.4 L290.5,135.8 L291.0,136.1 L291.5,136.5 L291.9,136.9 L292.4,137.2 L292.9,137.6 L293.3,138.0 L293.8,138.4 L294.3,138.7 L294.8,139.1 L295.2,139.5 L295.7,139.8 L296.1,140.2 L296.6,140.6 L297.0,140.9 L297.4,141.3 L297.7,141.6 L298.1,142.0 L298.5,142.4 L298.8,142.8 L299.1,143.2 L299.5,143.6 L299.8,144.1 L300.2,144.5 L300.5,145.0 L300.9,145.5 L301.3,146.0 L301.6,146.5 L302.0,147.0 L302.4,147.5 L302.8,148.0 L303.2,148.4 L303.6,148.9 L304.0,149.4 L304.4,149.8 L304.8,150.3 L305.2,150.8 L305.6,151.2 L306.0,151.7 L306.4,152.1 L306.8,152.5 L307.2,153.0 L307.6,153.4 L308.0,153.9 L308.4,154.3 L308.7,154.8 L309.1,155.2 L309.5,155.7 L309.9,156.1 L310.2,156.6 L310.6,157.1 L311.0,157.5 L311.4,158.0 L311.8,158.5 L312.2,159.0 L312.6,159.4 L313.0,159.9 L313.4,160.4 L313.9,160.8 L314.3,161.3 L314.7,161.7 L315.1,162.2 L315.6,162.6 L316.0,163.0 L316.4,163.4 L316.8,163.9 L317.2,164.3 L317.6,164.7 L317.9,165.1 L318.3,165.5 L318.7,166.0 L319.0,166.4 L319.4,166.9 L319.7,167.3 L320.1,167.8 L320.5,168.3 L320.8,168.7 L321.2,169.2 L321.6,169.7 L321.9,170.2 L322.3,170.7 L322.7,171.1 L323.1,171.6 L323.5,172.1 L323.9,172.6 L324.3,173.1 L324.7,173.5 L325.1,174.0 L325.5,174.5 L325.9,174.9 L326.3,175.4 L326.7,175.9 L327.2,176.3 L327.6,176.8 L328.1,177.3 L328.6,177.8 L329.1,178.2 L329.6,178.7 L330.2,179.1 L330.8,179.5 L331.4,179.9 L332.0,180.2 L332.5,180.5 L333.1,180.8 L333.7,181.1 L334.3,181.4 L334.9,181.6 L335.5,181.9 L336.0,182.1 L336.6,182.4 L337.2,182.6 L337.7,182.9 L338.3,183.1 L338.9,183.3 L339.4,183.6 L340.0,183.8 L340.6,184.0 L341.1,184.2 L341.7,184.4 L342.3,184.7 L342.8,184.9 L343.3,185.1 L343.9,185.3 L344.4,185.5 L344.9,185.8 L345.4,186.0 L346.0,186.3 L346.5,186.5 L347.1,186.8 L347.7,187.0 L348.3,187.3 L348.9,187.5 L349.4,187.7 L350.0,187.9 L350.6,188.2 L351.2,188.4 L351.9,188.7 L352.6,188.9 L353.4,189.1 L354.2,189.2 L354.9,189.2 L355.7,189.2 L356.4,189.2 L357.1,189.1 L357.7,189.1 L358.4,189.0 L359.0,188.9 L359.6,188.8 L360.2,188.7 L360.8,188.7 L361.4,188.6 L362.1,188.5 L362.7,188.4 L363.3,188.2 L364.0,188.1 L364.6,187.9 L365.3,187.8 L365.9,187.6 L366.6,187.4 L367.2,187.1 L367.9,186.8 L368.5,186.4 L369.1,186.1 L369.7,185.7 L370.3,185.3 L370.8,185.0 L371.4,184.6 L371.9,184.2 L372.4,183.8 L373.0,183.3 L373.5,182.9 L374.0,182.4 L374.4,181.9 L374.9,181.5 L375.3,181.0 L375.8,180.5 L376.2,180.0 L376.6,179.5 L377.0,179.0 L377.4,178.5 L377.8,178.0 L378.1,177.5 L378.5,177.0 L378.9,176.4 L379.2,175.9 L379.6,175.4 L379.9,174.8 L380.2,174.3 L380.5,173.8 L380.9,173.3 L381.2,172.7 L381.5,172.2 L381.8,171.6 L382.1,171.1 L382.4,170.5 L382.7,170.0 L383.0,169.4 L383.2,168.9 L383.5,168.3 L383.8,167.8 L384.0,167.3 L384.3,166.8 L384.6,166.3 L384.8,165.8 L385.1,165.4 L385.4,164.9 L385.7,164.4 L386.0,164.0 L386.3,163.5 L386.7,163.0 L387.0,162.5 L387.4,162.1 L387.7,161.6 L388.1,161.1 L388.5,160.5 L388.8,160.0 L389.2,159.5 L389.5,158.9 L389.8,158.4 L390.1,157.9 L390.5,157.4 L390.8,157.0 L391.1,156.5 L391.4,156.1 L391.7,155.7 L392.0,155.3 L392.3,155.0 L392.7,154.6 L393.0,154.3 L393.5,153.9 L393.9,153.6 L394.3,153.2 L394.8,152.9 L395.3,152.5 L395.8,152.1 L396.2,151.7 L396.7,151.3 L397.2,150.9 L397.7,150.5 L398.1,150.1 L398.6,149.8 L399.0,149.4 L399.5,149.0 L399.9,148.7 L400.4,148.3 L400.8,148.0 L401.2,147.7 L401.7,147.4 L402.2,147.1 L402.6,146.8 L403.1,146.5 L403.6,146.2 L404.1,145.9 L404.6,145.6 L405.2,145.3 L405.7,145.0 L406.2,144.7 L406.7,144.4 L407.3,144.1 L407.8,143.8 L408.3,143.4 L408.8,143.1 L409.3,142.8 L409.9,142.5 L410.4,142.2 L410.9,141.9 L411.4,141.5 L412.0,141.2 L412.5,140.8 L413.0,140.5 L413.5,140.1 L414.0,139.8 L414.5,139.5 L414.9,139.2 L415.3,138.9 L415.8,138.7 L416.2,138.5 L416.7,138.3 L417.2,138.1 L417.7,138.0 L418.2,137.8 L418.8,137.7 L419.4,137.5 L419.9,137.4 L420.5,137.2 L421.1,137.0 L421.7,136.9 L422.2,136.7 L422.8,136.6 L423.4,136.5 L423.9,136.3 L424.5,136.2 L425.1,136.1 L425.7,135.9 L426.3,135.8 L426.9,135.7 L427.4,135.5 L428.0,135.4 L428.5,135.3 L429.0,135.2 L429.5,135.1 L429.9,135.1 L430.4,135.0 L430.9,135.0 L431.5,135.0 L432.1,134.9 L432.6,134.9 L433.2,134.9 L433.8,134.9 L434.3,134.9 L434.8,134.8 L435.3,134.9 L435.8,134.9 L436.2,135.0 L436.8,135.0 L437.3,135.1 L437.9,135.3 L438.5,135.4 L439.2,135.5 L439.8,135.6 L440.5,135.6 L441.1,135.7 L441.7,135.7 L442.3,135.8 L442.9,135.9 L443.5,135.9 L444.1,136.0 L444.7,136.0 L445.3,136.1 L445.9,136.1 L446.5,136.2 L447.0,136.2 L447.6,136.3 L448.1,136.3 L448.6,136.3 L449.0,136.4 L449.4,136.4 L449.9,136.5 L450.3,136.6 L450.7,136.7 L451.1,136.8 L451.4,136.9 L451.6,137.1 L451.8,137.3 L452.1,137.6 L452.3,138.0 L452.5,138.3 L452.7,138.7 L452.8,139.1 L452.8,139.5 L452.8,139.9 L452.8,140.5 L452.8,141.0 L452.8,141.6 L452.8,142.2 L452.8,142.8 L452.8,143.3 L452.8,143.9 L452.8,144.5 L452.8,145.1 L452.8,145.7 L452.8,146.3 L452.8,146.9 L452.8,147.5 L452.8,148.1 L452.8,148.7 L452.8,149.3 L452.8,149.9 L452.8,150.5 L452.8,151.1 L452.8,151.8 L452.8,152.4 L452.8,153.0 L452.8,153.7 L452.8,154.3 L452.8,154.9 L452.8,155.0 L457.2,155.0 L457.2,154.9 L457.2,154.3 L457.2,153.7 L457.2,153.0 L457.2,152.4 L457.2,151.8 L457.2,151.1 L457.2,150.5 L457.2,149.9 L457.2,149.3 L457.2,148.7 L457.2,148.1 L457.2,147.5 L457.2,146.9 L457.2,146.3 L457.2,145.7 L457.2,145.1 L457.2,144.5 L457.2,143.9 L457.2,143.3 L457.2,142.8 L457.2,142.2 L457.2,141.6 L457.2,141.0 L457.2,140.5 L457.2,139.9 L457.2,139.2 L457.2,138.4 L457.1,137.6 L456.9,136.8 L456.5,136.0 L456.2,135.2 L455.7,134.5 L455.3,133.8 L454.8,133.2 L454.2,132.6 L453.5,132.0 L452.8,131.5 L452.0,131.1 L451.3,130.8 L450.5,130.5 L449.8,130.3 L449.1,130.2 L448.5,130.0 L447.8,129.9 L447.2,129.8 L446.6,129.7 L446.0,129.6 L445.4,129.6 L444.8,129.5 L444.2,129.4 L443.5,129.4 L442.9,129.3 L442.3,129.3 L441.8,129.2 L441.2,129.2 L440.6,129.1 L440.1,129.0 L439.6,129.0 L439.0,128.9 L438.4,128.7 L437.8,128.6 L437.1,128.5 L436.4,128.4 L435.7,128.4 L435.0,128.4 L434.3,128.4 L433.6,128.4 L433.0,128.4 L432.4,128.4 L431.7,128.4 L431.1,128.5 L430.5,128.5 L429.8,128.6 L429.1,128.6 L428.4,128.8 L427.7,128.9 L427.0,129.1 L426.3,129.3 L425.7,129.6 L425.2,129.8 L424.6,130.0 L424.0,130.2 L423.5,130.3 L422.9,130.5 L422.3,130.7 L421.7,130.9 L421.1,131.2 L420.5,131.4 L420.0,131.6 L419.4,131.8 L418.8,132.0 L418.3,132.2 L417.7,132.4 L417.1,132.7 L416.5,132.9 L415.9,133.2 L415.3,133.4 L414.7,133.7 L414.1,134.0 L413.5,134.3 L412.9,134.6 L412.3,134.9 L411.7,135.3 L411.2,135.7 L410.7,136.0 L410.2,136.4 L409.7,136.7 L409.2,137.0 L408.7,137.3 L408.3,137.6 L407.8,137.9 L407.3,138.2 L406.8,138.5 L406.2,138.8 L405.7,139.2 L405.2,139.5 L404.7,139.8 L404.2,140.1 L403.7,140.4 L403.2,140.7 L402.7,141.0 L402.1,141.3 L401.6,141.6 L401.1,141.9 L400.5,142.2 L400.0,142.5 L399.5,142.9 L398.9,143.2 L398.4,143.6 L397.9,144.0 L397.3,144.3 L396.8,144.7 L396.3,145.1 L395.9,145.5 L395.4,145.9 L394.9,146.3 L394.5,146.7 L394.0,147.1 L393.5,147.5 L393.1,147.8 L392.6,148.2 L392.2,148.6 L391.7,148.9 L391.2,149.3 L390.7,149.7 L390.2,150.1 L389.7,150.6 L389.2,151.0 L388.7,151.5 L388.3,152.0 L387.8,152.5 L387.4,153.1 L387.0,153.6 L386.6,154.2 L386.3,154.7 L385.9,155.2 L385.6,155.8 L385.3,156.3 L385.0,156.8 L384.7,157.3 L384.3,157.7 L384.0,158.2 L383.7,158.7 L383.3,159.1 L383.0,159.6 L382.6,160.1 L382.3,160.6 L381.9,161.1 L381.5,161.7 L381.2,162.2 L380.8,162.7 L380.5,163.3 L380.2,163.9 L379.9,164.4 L379.6,165.0 L379.3,165.5 L379.0,166.1 L378.8,166.6 L378.5,167.2 L378.2,167.7 L378.0,168.2 L377.7,168.7 L377.4,169.2 L377.1,169.7 L376.9,170.2 L376.6,170.7 L376.3,171.2 L376.0,171.7 L375.7,172.2 L375.3,172.7 L375.0,173.2 L374.7,173.7 L374.4,174.1 L374.1,174.6 L373.8,175.0 L373.4,175.5 L373.1,175.9 L372.7,176.3 L372.4,176.8 L372.0,177.2 L371.6,177.6 L371.2,178.1 L370.9,178.5 L370.5,178.9 L370.1,179.2 L369.7,179.6 L369.3,179.9 L368.9,180.2 L368.5,180.5 L368.1,180.8 L367.6,181.0 L367.2,181.3 L366.7,181.5 L366.2,181.7 L365.7,181.9 L365.2,182.0 L364.8,182.2 L364.3,182.3 L363.8,182.5 L363.3,182.6 L362.8,182.7 L362.2,182.8 L361.7,182.9 L361.1,183.0 L360.6,183.1 L360.0,183.2 L359.4,183.3 L358.9,183.4 L358.3,183.5 L357.7,183.5 L357.1,183.6 L356.6,183.7 L356.0,183.7 L355.6,183.7 L355.1,183.8 L354.8,183.7 L354.4,183.7 L354.0,183.6 L353.6,183.4 L353.1,183.3 L352.6,183.1 L352.0,182.8 L351.4,182.6 L350.9,182.4 L350.3,182.2 L349.8,182.0 L349.3,181.8 L348.8,181.5 L348.3,181.3 L347.7,181.0 L347.2,180.7 L346.6,180.5 L346.0,180.2 L345.4,180.0 L344.8,179.8 L344.3,179.5 L343.7,179.3 L343.1,179.1 L342.6,178.9 L342.0,178.7 L341.5,178.5 L340.9,178.2 L340.4,178.0 L339.9,177.8 L339.3,177.6 L338.8,177.3 L338.2,177.1 L337.7,176.9 L337.2,176.6 L336.6,176.4 L336.1,176.1 L335.6,175.9 L335.1,175.7 L334.7,175.4 L334.2,175.2 L333.8,174.9 L333.4,174.6 L333.1,174.4 L332.7,174.1 L332.3,173.7 L332.0,173.4 L331.6,173.0 L331.2,172.6 L330.8,172.1 L330.4,171.7 L330.0,171.3 L329.6,170.8 L329.2,170.4 L328.8,169.9 L328.5,169.5 L328.1,169.1 L327.7,168.6 L327.4,168.2 L327.0,167.7 L326.6,167.3 L326.3,166.8 L325.9,166.3 L325.6,165.9 L325.2,165.4 L324.8,164.9 L324.5,164.4 L324.1,163.9 L323.7,163.4 L323.3,162.9 L322.9,162.5 L322.5,162.0 L322.1,161.5 L321.7,161.0 L321.2,160.6 L320.8,160.1 L320.4,159.6 L319.9,159.2 L319.5,158.8 L319.1,158.3 L318.7,157.9 L318.3,157.5 L317.9,157.1 L317.5,156.7 L317.1,156.2 L316.7,155.8 L316.4,155.4 L316.0,154.9 L315.6,154.5 L315.2,154.0 L314.9,153.6 L314.5,153.1 L314.1,152.7 L313.7,152.2 L313.3,151.7 L313.0,151.2 L312.6,150.8 L312.2,150.3 L311.8,149.8 L311.4,149.4 L310.9,148.9 L310.5,148.4 L310.1,148.0 L309.7,147.5 L309.3,147.1 L308.9,146.7 L308.6,146.2 L308.2,145.8 L307.8,145.3 L307.4,144.9 L307.1,144.5 L306.7,144.0 L306.4,143.6 L306.0,143.1 L305.7,142.7 L305.3,142.2 L304.9,141.7 L304.6,141.2 L304.2,140.7 L303.8,140.2 L303.4,139.7 L303.0,139.2 L302.5,138.7 L302.1,138.2 L301.6,137.7 L301.1,137.3 L300.6,136.8 L300.1,136.4 L299.7,136.0 L299.2,135.6 L298.7,135.2 L298.2,134.8 L297.7,134.4 L297.2,134.0 L296.8,133.7 L296.3,133.3 L295.8,132.9 L295.4,132.6 L294.9,132.2 L294.4,131.8 L293.9,131.4 L293.4,131.1 L293.0,130.7 L292.5,130.3 L292.1,130.0 L291.6,129.6 L291.2,129.3 L290.8,128.9 L290.4,128.5 L290.0,128.1 L289.5,127.8 L289.1,127.4 L288.7,127.0 L288.3,126.5 L287.9,126.1 L287.5,125.7 L287.1,125.3 L286.7,124.9 L286.2,124.4 L285.8,124.0 L285.4,123.5 L285.0,123.1 L284.6,122.7 L284.1,122.2 L283.7,121.8 L283.3,121.4 L282.8,121.0 L282.4,120.5 L282.0,120.1 L281.6,119.7 L281.1,119.3 L280.7,118.8 L280.3,118.4 L279.9,118.0 L279.4,117.6 L279.0,117.1 L278.6,116.7 L278.2,116.3 L277.8,115.9 L277.3,115.4 L276.9,115.0 L276.5,114.6 L276.1,114.2 L275.6,113.7 L275.2,113.3 L274.8,112.9 L274.4,112.5 L273.9,112.0 L273.5,111.6 L273.1,111.2 L272.7,110.8 L272.3,110.3 L271.8,109.9 L271.4,109.5 L271.0,109.0 L270.6,108.6 L270.2,108.2 L269.8,107.8 L269.4,107.4 L269.0,106.9 L268.6,106.4 L268.2,105.8 L267.7,105.3 L267.2,104.8 L266.6,104.3 L266.1,103.8 L265.5,103.4 L264.9,102.9 L264.3,102.5 L263.6,102.1 L262.9,101.7 L262.2,101.4 L261.5,101.2 L260.8,101.0 L260.2,100.8 L259.5,100.6 L258.9,100.5 L258.3,100.4 L257.7,100.2 L257.1,100.1 L256.6,100.0 L256.0,99.9 L255.6,99.8 L255.0,99.6 L254.5,99.5 L253.9,99.3 L253.3,99.1 L252.7,98.9 L252.0,98.7 L251.2,98.5 L250.4,98.4 L249.5,98.3 L248.5,98.3 L247.5,98.5 L246.5,98.8 L245.7,99.3 L244.9,99.7 L244.2,100.2 L243.6,100.8 L243.1,101.3 L242.6,101.8 L242.2,102.2 L241.7,102.7 L241.2,103.1 L240.8,103.5 L240.3,103.9 L239.8,104.3 L239.3,104.8 L238.9,105.3 L238.4,105.7 L238.0,106.2 L237.6,106.6 L237.2,107.0 L236.8,107.4 L236.4,107.7 L236.1,108.0 L235.7,108.4 L235.2,108.7 L234.7,109.0 L234.2,109.4 L233.6,109.8 L233.0,110.2 L232.4,110.7 L231.8,111.2 L231.2,111.8 L230.8,112.5 L230.4,113.2 L230.1,113.9 L229.9,114.6 L229.7,115.3 L229.6,115.9 L229.4,116.6 L229.3,117.2 L229.2,117.9 L229.1,118.5 L229.0,119.0 L228.8,119.6 L228.7,120.2 L228.6,120.8 L228.4,121.4 L228.3,122.0 L228.2,122.5 L228.0,123.1 L227.9,123.7 L227.8,124.3 L227.6,124.9 L227.5,125.5 L227.4,126.0 L227.3,126.6 L227.1,127.2 L227.0,127.8 L226.8,128.3 L226.7,128.9 L226.5,129.4 L226.4,130.0 L226.2,130.5 L226.0,131.1 L225.8,131.6 L225.6,132.2 L225.4,132.7 L225.2,133.3 L225.0,133.9 L224.8,134.4 L224.6,135.0 L224.4,135.6 L224.2,136.1 L224.0,136.7 L223.8,137.3 L223.6,137.9 L223.4,138.5 L223.2,139.1 L223.1,139.7 L222.9,140.2 L222.7,140.8 L222.5,141.4 L222.4,142.0 L222.2,142.6 L222.1,143.1 L221.9,143.7 L221.7,144.3 L221.6,144.9 L221.4,145.5 L221.3,146.1 L221.1,146.6 L220.9,147.2 L220.8,147.8 L220.6,148.4 L220.5,149.0 L220.3,149.6 L220.2,150.1 L220.0,150.7 L219.9,151.3 L219.7,151.9 L219.6,152.5 L219.5,153.1 L219.3,153.7 L219.2,154.2 L219.0,154.8 L218.9,155.4 L218.7,156.0 L218.6,156.6 L218.5,157.2 L218.3,157.8 L218.2,158.3 L218.0,158.9 L217.9,159.5 L217.8,160.1 L217.6,160.7 L217.5,161.3 L217.3,161.9 L217.2,162.4 L217.1,163.0 L216.9,163.6 L216.8,164.2 L216.7,164.8 L216.5,165.4 L216.4,165.9 L216.2,166.5 L216.1,167.1 L216.0,167.7 L215.8,168.3 L215.7,168.9 L215.5,169.4 L215.4,170.0 L215.3,170.6 L215.1,171.2 L215.0,171.8 L214.8,172.4 L214.7,172.9 L214.6,173.5 L214.4,174.1 L214.3,174.7 L214.1,175.3 L214.0,175.8 L213.8,176.4 L213.7,177.0 L213.5,177.6 L213.4,178.2 L213.2,178.7 L213.1,179.3 L213.0,179.9 L212.8,180.5 L212.7,181.1 L212.5,181.7 L212.4,182.2 L212.2,182.8 L212.1,183.4 L211.9,184.0 L211.8,184.6 L211.6,185.2 L211.5,185.8 L211.4,186.4 L211.2,187.0 L211.1,187.6 L210.9,188.2 L210.8,188.8 L210.7,189.4 L210.5,190.0 L210.4,190.5 L210.2,191.1 L210.1,191.6 L209.9,192.1 L209.7,192.7 L209.6,193.1 L209.4,193.6 L209.2,194.0 L209.0,194.4 L208.8,194.7 L208.6,195.1 L208.3,195.5 L207.9,195.9 L207.6,196.3 L207.2,196.7 L206.8,197.2 L206.3,197.6 L205.9,198.1 L205.5,198.7 L205.0,199.2 L204.6,199.8 L204.2,200.5 L203.9,201.1 L203.5,201.7 L203.3,202.2 L203.0,202.6 L202.8,202.9 L202.7,203.1 L202.6,203.2 L202.5,203.2 L202.2,203.2 L201.8,203.3 L201.4,203.4 L200.9,203.5 L200.5,203.5 L200.0,203.5 L199.5,203.5 L199.0,203.5 L198.4,203.5 L197.8,203.5 L197.2,203.5 L196.6,203.5 L196.0,203.5 L195.5,203.5 L194.9,203.5 L194.4,203.5 L193.8,203.5 L193.3,203.4 L192.8,203.4 L192.2,203.3 L191.7,203.2 L191.2,203.1 L190.6,203.0 L190.1,202.9 L189.5,202.8 L188.9,202.7 L188.4,202.5 L187.8,202.4 L187.2,202.3 L186.6,202.1 L186.1,202.0 L185.6,201.9 L185.1,201.7 L184.6,201.6 L184.1,201.4 L183.5,201.2 L183.0,201.0 L182.5,200.8 L181.9,200.6 L181.4,200.3 L180.9,200.1 L180.4,199.9 L179.8,199.7 L179.3,199.4 L178.8,199.2 L178.3,198.9 L177.7,198.7 L177.2,198.4 L176.6,198.1 L176.0,197.9 L175.5,197.6 L174.9,197.4 L174.3,197.2 L173.7,197.0 L173.2,196.8 L172.6,196.6 L172.1,196.4 L171.5,196.2 L171.0,195.9 L170.5,195.7 L170.0,195.4 L169.4,195.2 L168.9,194.9 L168.4,194.7 L167.8,194.4 L167.3,194.1 L166.8,193.9 L166.3,193.6 L165.7,193.3 L165.2,193.1 L164.7,192.8 L164.2,192.5 L163.7,192.2 L163.1,192.0 L162.6,191.7 L162.1,191.4 L161.6,191.1 L161.1,190.8 L160.6,190.5 L160.1,190.2 L159.6,189.9 L159.1,189.6 L158.6,189.3 L158.1,189.0 L157.6,188.7 L157.1,188.4 L156.6,188.1 L156.1,187.8 L155.6,187.5 L155.1,187.2 L154.6,186.8 L154.1,186.5 L153.6,186.2 L153.1,185.9 L152.7,185.5 L152.2,185.2 L151.7,184.9 L151.3,184.5 L150.8,184.2 L150.3,183.8 L149.9,183.5 L149.4,183.1 L148.9,182.7 L148.5,182.4 L148.1,182.0 L147.6,181.7 L147.2,181.3 L146.8,181.0 L146.5,180.6 L146.1,180.2 L145.8,179.8 L145.4,179.5 L145.1,179.0 L144.7,178.6 L144.3,178.2 L144.0,177.8 L143.7,177.3 L143.3,176.9 L143.0,176.4 L142.6,175.9 L142.3,175.5 L142.0,175.0 L141.6,174.5 L141.3,174.0 L141.0,173.5 L140.7,173.0 L140.4,172.5 L140.1,172.0 L139.8,171.5 L139.5,171.0 L139.2,170.5 L138.9,170.0 L138.6,169.5 L138.4,169.0 L138.1,168.5 L137.8,168.0 L137.6,167.5 L137.3,166.9 L137.1,166.4 L136.8,165.9 L136.6,165.4 L136.4,164.8 L136.1,164.3 L135.9,163.8 L135.7,163.2 L135.6,162.7 L135.4,162.2 L135.2,161.6 L135.0,161.1 L134.8,160.5 L134.7,159.9 L134.5,159.3 L134.3,158.8 L134.1,158.2 L133.9,157.6 L133.7,157.0 L133.6,156.5 L133.4,155.9 L133.2,155.3 L133.0,154.8 L132.8,154.2 L132.7,153.6 L132.5,153.0 L132.3,152.4 L132.1,151.8 L131.9,151.3 L131.7,150.7 L131.4,150.1 L131.2,149.5 L131.0,148.9 L130.7,148.3 L130.5,147.7 L130.2,147.2 L129.9,146.6 L129.7,146.1 L129.4,145.5 L129.1,145.0 L128.8,144.4 L128.5,143.9 L128.2,143.3 L128.0,142.8 L127.7,142.3 L127.4,141.8 L127.1,141.2 L126.8,140.7 L126.6,140.1 L126.3,139.6 L126.0,139.0 L125.7,138.5 L125.4,138.0 L125.0,137.4 L124.7,136.9 L124.4,136.4 L124.1,135.9 L123.8,135.3 L123.5,134.8 L123.2,134.3 L123.0,133.8 L122.7,133.3 L122.4,132.8 L122.1,132.3 L121.9,131.8 L121.7,131.3 L121.4,130.8 L121.2,130.3 L121.0,129.8 L120.8,129.3 L120.6,128.7 L120.5,128.2 L120.3,127.7 L120.1,127.1 L120.0,126.6 L119.8,126.0 L119.6,125.5 L119.5,124.9 L119.3,124.4 L119.2,123.8 L119.0,123.2 L118.9,122.7 L118.8,122.1 L118.6,121.5 L118.5,120.9 L118.3,120.4 L118.2,119.8 L118.1,119.2 L117.9,118.6 L117.8,118.0 L117.7,117.4 L117.6,116.8 L117.4,116.2 L117.3,115.6 L117.2,115.1 L117.0,114.5 L116.9,113.9 L116.7,113.3 L116.6,112.7 L116.5,112.1 L116.3,111.5 L116.2,110.9 L116.0,110.3 L115.8,109.7 L115.7,109.1 L115.5,108.5 L115.4,107.9 L115.2,107.4 L115.0,106.8 L114.9,106.2 L114.7,105.6 L114.5,105.0 L114.4,104.5 L114.2,103.9 L114.0,103.3 L113.9,102.7 L113.7,102.1 L113.5,101.6 L113.4,101.0 L113.2,100.4 L113.0,99.8 L112.8,99.3 L112.7,98.7 L112.5,98.1 L112.3,97.5 L112.1,96.9 L112.0,96.4 L111.8,95.8 L111.6,95.2 L111.4,94.6 L111.3,94.1 L111.1,93.5 L110.9,92.9 L110.7,92.3 L110.5,91.7 L110.3,91.2 L110.1,90.6 L110.0,90.1 L109.8,89.6 L109.7,89.0 L109.5,88.4 L109.4,87.9 L109.2,87.3 L109.1,86.8 L109.0,86.2 L108.9,85.6 L108.7,85.0 L108.6,84.4 L108.5,83.9 L108.3,83.3 L108.2,82.7 L108.1,82.1 L108.0,81.5 L107.8,80.9 L107.7,80.3 L107.5,79.7 L107.4,79.1 L107.3,78.5 L107.1,77.9 L107.0,77.3 L106.8,76.8 L106.7,76.2 L106.6,75.6 L106.4,75.0 L106.3,74.4 L106.1,73.8 L106.0,73.2 L105.8,72.6 L105.7,72.0 L105.5,71.4 L105.4,70.9 L105.2,70.3 L105.1,69.7 L105.0,69.1 L104.8,68.4 L104.7,67.8 L104.5,67.2 L104.3,66.5 L104.1,65.9 L103.9,65.3 L103.6,64.6 L103.4,64.0 L103.0,63.2 L102.7,62.5 L102.1,61.7 L101.5,61.0 L100.7,60.4 L99.7,59.8 L98.4,59.4 L97.2,59.3 L96.0,59.6 L94.8,60.1 L93.9,60.7 L93.2,61.3 L92.6,62.0 L92.2,62.8 L91.8,63.5 L91.5,64.2 L91.2,64.8 L91.0,65.4 L90.7,66.0 L90.5,66.6 L90.3,67.2 L90.1,67.8 L89.9,68.4 L89.7,69.0 L89.5,69.6 L89.4,70.2 L89.2,70.8 L89.0,71.3 L88.8,71.9 L88.6,72.4 L88.4,73.0 L88.2,73.6 L88.0,74.1 L87.8,74.7 L87.6,75.3 L87.3,75.9 L87.1,76.5 L87.0,77.1 L86.8,77.7 L86.6,78.4 L86.4,79.0 L86.3,79.6 L86.2,80.2 L86.0,80.8 L85.9,81.4 L85.8,82.0 L85.7,82.6 L85.6,83.2 L85.5,83.8 L85.4,84.4 L85.3,85.0 L85.2,85.6 L85.1,86.2 L85.0,86.8 L84.9,87.5 L84.8,88.1 L84.7,88.7 L84.7,89.3 L84.6,89.9 L84.5,90.5 L84.4,91.1 L84.3,91.7 L84.3,92.3 L84.2,92.9 L84.1,93.5 L84.0,94.1 L84.0,94.7 L83.9,95.3 L83.8,95.9 L83.8,96.5 L83.7,97.1 L83.6,97.7 L83.5,98.2 L83.5,98.8 L83.4,99.4 L83.3,100.0 L83.3,100.6 L83.2,101.2 L83.1,101.8 L83.1,102.4 L83.0,103.0 L83.0,103.6 L82.9,104.2 L82.8,104.8 L82.8,105.4 L82.7,106.0 L82.6,106.6 L82.6,107.2 L82.5,107.8 L82.5,108.4 L82.4,109.0 L82.4,109.6 L82.3,110.2 L82.2,110.8 L82.2,111.4 L82.1,112.0 L82.1,112.6 L82.0,113.2 L82.0,113.8 L81.9,114.4 L81.8,115.0 L81.8,115.6 L81.7,116.2 L81.7,116.8 L81.6,117.4 L81.6,118.0 L81.5,118.6 L81.5,119.2 L81.4,119.8 L81.3,120.4 L81.3,121.0 L81.2,121.6 L81.2,122.2 L81.1,122.8 L81.1,123.4 L81.0,124.0 L81.0,124.6 L80.9,125.2 L80.8,125.8 L80.8,126.4 L80.7,127.0 L80.7,127.6 L80.6,128.2 L80.6,128.7 L80.5,129.3 L80.4,129.9 L80.4,130.5 L80.3,131.1 L80.3,131.7 L80.2,132.3 L80.2,132.9 L80.1,133.5 L80.0,134.1 L80.0,134.7 L79.9,135.3 L79.9,135.9 L79.8,136.5 L79.7,137.1 L79.7,137.7 L79.6,138.3 L79.6,138.9 L79.5,139.5 L79.5,140.1 L79.4,140.7 L79.4,141.3 L79.3,141.9 L79.2,142.5 L79.2,143.1 L79.1,143.7 L79.1,144.3 L79.0,144.9 L79.0,145.5 L78.9,146.1 L78.8,146.7 L78.8,147.3 L78.7,147.9 L78.7,148.5 L78.6,149.1 L78.6,149.7 L78.5,150.3 L78.4,150.9 L78.4,151.4 L78.3,152.0 L78.3,152.6 L78.2,153.2 L78.2,153.8 L78.1,154.4 L78.0,155.0 L78.0,155.6 L77.9,156.2 L77.9,156.8 L77.8,157.4 L77.7,158.0 L77.7,158.6 L77.6,159.2 L77.6,159.8 L77.5,160.4 L77.4,161.0 L77.4,161.6 L77.3,162.2 L77.3,162.8 L77.2,163.4 L77.1,164.0 L77.1,164.6 L77.0,165.2 L77.0,165.8 L76.9,166.4 L76.8,166.9 L76.8,167.5 L76.7,168.1 L76.6,168.7 L76.6,169.3 L76.5,169.9 L76.4,170.5 L76.4,171.1 L76.3,171.7 L76.2,172.3 L76.2,172.9 L76.1,173.5 L76.0,174.1 L76.0,174.7 L75.9,175.3 L75.8,175.9 L75.8,176.5 L75.7,177.1 L75.6,177.7 L75.6,178.3 L75.5,178.9 L75.4,179.5 L75.4,180.0 L75.3,180.6 L75.2,181.2 L75.2,181.8 L75.1,182.4 L75.0,183.0 L75.0,183.6 L74.9,184.2 L74.8,184.8 L74.8,185.4 L74.7,186.0 L74.6,186.6 L74.6,187.2 L74.5,187.8 L74.4,188.4 L74.4,189.0 L74.3,189.6 L74.2,190.2 L74.2,190.8 L74.1,191.4 L74.0,192.0 L74.0,192.6 L73.9,193.2 L73.9,193.8 L73.8,194.4 L73.7,195.0 L73.7,195.6 L73.6,196.2 L73.6,196.8 L73.5,197.4 L73.4,198.0 L73.4,198.6 L73.3,199.2 L73.3,199.8 L73.2,200.4 L73.2,201.0 L73.1,201.6 L73.1,202.2 L73.0,202.8 L73.0,203.4 L72.9,204.0 L72.9,204.6 L72.8,205.2 L72.8,205.8 L72.7,206.4 L72.6,207.0 L72.6,207.6 L72.5,208.2 L72.5,208.8 L72.4,209.4 L72.4,210.0 L72.3,210.6 L72.3,211.2 L72.2,211.8 L72.2,212.4 L72.1,213.0 L72.1,213.6 L72.0,214.2 L72.0,214.7 L71.9,215.3 L71.9,215.9 L71.8,216.5 L71.8,217.1 L71.7,217.7 L71.7,218.3 L71.6,218.9 L71.6,219.5 L71.5,220.1 L71.5,220.7 L71.4,221.3 L71.4,221.9 L71.3,222.5 L71.2,223.1 L71.2,223.7 L71.1,224.3 L71.1,224.9 L71.0,225.5 L70.9,226.1 L70.9,226.7 L70.8,227.3 L70.8,227.8 L70.7,228.4 L70.6,229.0 L70.6,229.6 L70.5,230.2 L70.4,230.8 L70.4,231.4 L70.3,232.0 L70.3,232.6 L70.2,233.2 L70.1,233.8 L70.1,234.4 L70.0,235.0 L69.9,235.6 L69.9,236.2 L69.8,236.8 L69.7,237.4 L69.7,238.0 L69.6,238.5 L69.5,239.1 L69.5,239.7 L69.4,240.3 L69.3,240.9 L69.2,241.5 L69.2,242.1 L69.1,242.7 L69.0,243.3 L69.0,243.9 L68.9,244.5 L68.8,245.1 L68.8,245.7 L68.7,246.3 L68.6,246.9 L68.5,247.5 L68.5,248.1 L68.4,248.7 L68.3,249.2 L68.3,249.8 L68.2,250.4 L68.1,251.0 L68.0,251.6 L68.0,252.2 L67.9,252.8 L67.8,253.4 L67.8,254.0 L67.7,254.6 L67.6,255.2 L67.5,255.8 L67.5,256.4 L67.4,257.0 L67.3,257.6 L67.2,258.2 L67.2,258.8 L67.1,259.3 L67.0,259.9 L66.9,260.5 L66.9,261.1 L66.8,261.7 L66.7,262.3 L66.6,262.9 L66.6,263.5 L66.5,264.1 L66.4,264.7 L66.3,265.3 L66.2,265.9 L66.2,266.5 L66.1,267.1 L66.0,267.7 L65.9,268.3 L65.9,268.9 L65.8,269.4 L65.7,270.0 L65.6,270.6 L65.5,271.2 L65.5,271.8 L65.4,272.4 L65.3,273.0 L65.2,273.6 L65.1,274.2 L65.0,274.8 L65.0,275.4 L64.9,276.0 L64.8,276.6 L64.7,277.2 L64.6,277.8 L64.6,278.4 L64.5,278.9 L64.4,279.5 L64.3,280.1 L64.2,280.7 L64.1,281.3 L64.0,281.9 L64.0,282.5 L63.9,283.1 L63.8,283.7 L63.7,284.3 L63.6,284.9 L63.5,285.5 L63.4,286.1 L63.4,286.7 L63.3,287.3 L63.2,287.8 L63.1,288.4 L63.0,289.0 L62.9,289.6 L62.8,290.2 L62.7,290.8 L62.6,291.4 L62.6,292.0 L62.5,292.6 L62.4,293.2 L62.3,293.8 L62.2,294.4 L62.1,295.0 L62.0,295.6 L61.9,296.1 L61.8,296.7 Z" fill="#98b954" stroke="#98b954" stroke-width="0.25" stroke-linejoin="round"/><circle cx="455.0" cy="155.0" r="2.25" fill="#98b954"/><path d="M91.5,69.5 L94.5,63 L97.5,60 L100.4,63 L103.3,69.5 L99.7,70 L97.4,68.6 L95.3,70 Z" fill="#98b954"/></g>
<path d="M62.95,16.05 V297.25 H533.35" fill="none" stroke="#000" stroke-width="1.5"/><path d="M56.95,297.25 H62.95 M56.95,269.13 H62.95 M56.95,241.01 H62.95 M56.95,212.89 H62.95 M56.95,184.77 H62.95 M56.95,156.65 H62.95 M56.95,128.53 H62.95 M56.95,100.41 H62.95 M56.95,72.29 H62.95 M56.95,44.17 H62.95 M56.95,16.05 H62.95 M62.95,297.25 V303.65 M141.35,297.25 V303.65 M219.75,297.25 V303.65 M298.15,297.25 V303.65 M376.55,297.25 V303.65 M454.95,297.25 V303.65 M533.35,297.25 V303.65 " fill="none" stroke="#000" stroke-width="1.2"/>
<g><text x="48" y="303.5" text-anchor="end">0</text><text x="48" y="275.4" text-anchor="end">1</text><text x="48" y="247.3" text-anchor="end">2</text><text x="48" y="219.1" text-anchor="end">3</text><text x="48" y="191.0" text-anchor="end">4</text><text x="48" y="162.9" text-anchor="end">5</text><text x="48" y="134.8" text-anchor="end">6</text><text x="48" y="106.7" text-anchor="end">7</text><text x="48" y="78.5" text-anchor="end">8</text><text x="48" y="50.4" text-anchor="end">9</text><text x="48" y="22.3" text-anchor="end">10</text><text x="63.0" y="324.4" text-anchor="middle">0</text><text x="141.4" y="324.4" text-anchor="middle">2</text><text x="219.8" y="324.4" text-anchor="middle">4</text><text x="298.2" y="324.4" text-anchor="middle">6</text><text x="376.6" y="324.4" text-anchor="middle">8</text><text x="454.9" y="324.4" text-anchor="middle">10</text><text x="533.4" y="324.4" text-anchor="middle">12</text></g>
<g><path d="M401,27.0 H430" stroke="#be4b48" stroke-width="4" stroke-linecap="round"/><text x="433.5" y="32.8" textLength="82.5" lengthAdjust="spacing">0.6mm/min</text><path d="M401,65.0 H430" stroke="#4a7ebb" stroke-width="4" stroke-linecap="round"/><text x="433.5" y="70.8" textLength="82.5" lengthAdjust="spacing">1.2mm/min</text><path d="M401,103.0 H430" stroke="#98b954" stroke-width="4" stroke-linecap="round"/><text x="433.5" y="108.8" textLength="82.5" lengthAdjust="spacing">2.4mm/min</text></g>
<text class="b" x="311" y="342.2" text-anchor="middle" textLength="182" lengthAdjust="spacing">Shear displacement/mm</text>
<text class="b" transform="translate(23.2,157.5) rotate(-90)" text-anchor="middle" textLength="138" lengthAdjust="spacing">Shear Stress/MPa</text>
</svg>
</body></html>
